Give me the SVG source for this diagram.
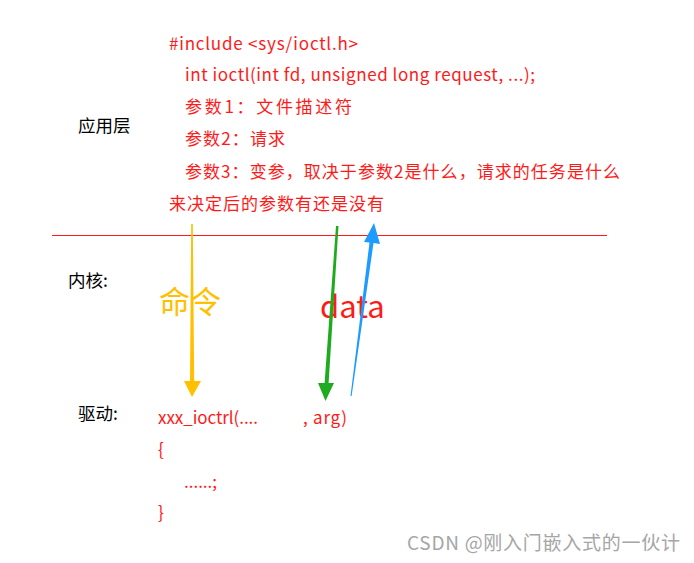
<svg xmlns="http://www.w3.org/2000/svg" width="694" height="563" viewBox="0 0 694 563">
<style>
text{font-family:"Noto Sans CJK SC","Noto Sans",sans-serif;}
.r{fill:#ff1a1a;font-size:17px;}
.k{fill:#000;font-size:17.5px;}
.big{font-size:31px;}
.wm{fill:#a6a6a6;font-size:19px;}
</style>
<rect width="694" height="563" fill="#fff"/>
<g id="labels">
<text class="k" x="78" y="132">应用层</text>
<text class="k" x="68" y="287">内核:</text>
<text class="k" x="78" y="420">驱动:</text>
</g>
<g id="user-code">
<text class="r" x="169" y="50" textLength="189">#include &lt;sys/ioctl.h&gt;</text>
<text class="r" x="185" y="81" textLength="350">int ioctl(int fd, unsigned long request, ...);</text>
<text class="r" x="185" y="113" textLength="167">参数1：文件描述符</text>
<text class="r" x="185" y="145" textLength="100">参数2：请求</text>
<text class="r" x="185" y="178" textLength="435">参数3：变参，取决于参数2是什么，请求的任务是什么</text>
<text class="r" x="169" y="210" textLength="215">来决定后的参数有还是没有</text>
</g>
<g id="divider">
<line x1="52" y1="235.5" x2="607" y2="235.5" stroke="#ff1a1a" stroke-width="1.2"/>
</g>
<g id="cmd-label"><text class="big" x="159" y="313" fill="#ffc000">命令</text></g>
<g id="data-label"><text class="big" x="320" y="318" fill="#ff1a1a">data</text></g>
<g id="driver-code">
<text class="r" x="158" y="424" textLength="100">xxx_ioctrl(....</text>
<text class="r" x="303" y="424" textLength="44">, arg)</text>
<text class="r" x="158" y="456">{</text>
<text class="r" x="184" y="488" textLength="33">......;</text>
<text class="r" x="158" y="519">}</text>
</g>
<g id="connectors">
<polygon fill="#ffc000" points="191.2,224 192.8,224 194.2,381 201,381 192,397 184,381 190,381"/>
<polygon fill="#1fab1f" points="336,226 338.5,226 328.6,383 334,383 325.5,401 318,383 324.6,383"/>
<polygon fill="#1e9bff" points="350.5,396 351.6,396 373.5,243 380,244 374,223 364,242 369.5,242.5"/>
</g>
<g id="watermark"><text class="wm" x="407" y="550" textLength="273">CSDN @刚入门嵌入式的一伙计</text></g>
</svg>
